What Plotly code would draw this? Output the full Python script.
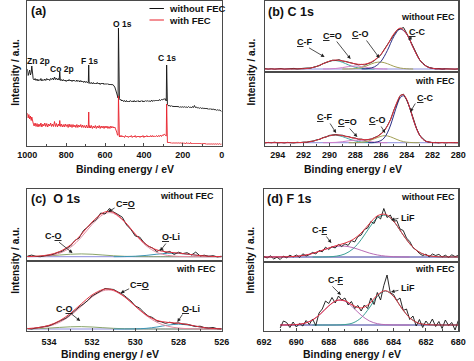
import plotly.graph_objects as go

W, H = 474, 361
FONT = "Liberation Sans, Arial, sans-serif"
FRAME = "#4a4a4a"

# ---------------- (a) survey ----------------
X_SURVEY = [1000, 996, 992, 988, 984, 980, 977, 974, 970, 965, 960, 955, 950, 945, 940, 935, 930, 925, 920, 915,
            910, 905, 900, 895, 890, 885, 880, 875, 870, 865, 860, 855, 850, 845, 840, 836, 833, 830, 825, 820,
            815, 810, 805, 800, 795, 790, 785, 780, 775, 770, 765, 760, 755, 750, 745, 740, 735, 730, 725, 720,
            715, 710, 705, 700, 695, 690, 686, 684, 682, 678, 674, 670, 665, 660, 655, 650, 645, 640, 635, 630,
            625, 620, 615, 610, 605, 600, 595, 590, 585, 580, 575, 570, 565, 560, 555, 550, 545, 540, 536, 533,
            531, 529, 526, 522, 518, 514, 510, 505, 500, 495, 490, 485, 480, 475, 470, 465, 460, 455, 450, 445,
            440, 435, 430, 425, 420, 415, 410, 405, 400, 395, 390, 385, 380, 375, 370, 365, 360, 355, 350, 345,
            340, 335, 330, 325, 320, 315, 310, 305, 300, 296, 292, 288, 285, 283, 281, 279, 276, 272, 268, 264,
            260, 255, 250, 245, 240, 235, 230, 225, 220, 215, 210, 205, 200, 195, 190, 185, 180, 175, 170, 165,
            160, 155, 150, 145, 140, 135, 130, 125, 120, 115, 110, 105, 100, 95, 90, 85, 80, 75, 70, 65,
            60, 55, 50, 45, 40, 35, 30, 25, 20, 15, 10, 5, 0]
Y_WITHOUT = [77, 70.5, 73, 76, 71, 73.5, 80, 69, 67.5, 66, 67.5, 65.5, 67, 65, 66.5, 65.5, 67.5, 65, 66.5, 65.5,
             67, 65.5, 67.5, 66, 67, 65.5, 67.5, 66.5, 68, 66, 69, 66.5, 68, 66, 67.5, 66, 74, 65.5, 66.5, 65,
             66.5, 65, 66, 64.5, 66, 65, 66.5, 65, 66, 64.5, 66, 65, 65.5, 64.5, 66, 64.5, 65.5, 64, 65.5, 64,
             65, 63.5, 65, 63.5, 64.5, 63, 64, 81, 62.5, 63.5, 62.5, 63.5, 62, 63.5, 62, 63, 62, 63.5, 62, 63,
             61.5, 63, 62, 63, 61.5, 62.5, 61.5, 62.5, 61.5, 62, 61, 62, 61, 61.5, 60, 59, 56, 52, 49.5, 48,
             118, 49, 47.5, 46, 46.5, 45, 46, 44.5, 45.5, 44, 45.5, 44, 45, 44, 45.5, 44.5, 45, 44, 45.5, 44,
             45, 44.5, 45.5, 44, 45, 44.5, 45.5, 44, 45, 44.5, 45.5, 44.5, 45.5, 44.5, 45, 44.5, 46, 44.5, 45.5, 45,
             46, 45, 46, 45, 46.5, 45.5, 46.5, 46, 47, 46.5, 47.5, 46, 45, 81, 42.5, 41.5, 41, 40, 40.5, 39.5,
             40.5, 39.5, 40, 39, 40, 39, 40, 39, 39.5, 38.5, 39.5, 38.5, 39.5, 38.5, 39.5, 38.5, 39, 38.5, 39.5, 38.5,
             39, 38, 39.5, 38.5, 40.5, 38.5, 39, 38, 38.5, 37.5, 38.5, 37.5, 38, 37.5, 38, 37, 38, 37, 37.5, 36.5,
             37.5, 36.5, 37, 36.5, 37, 36, 36.5, 35.5, 36.5, 35.5, 36, 35, 34.5]
Y_WITH = [33, 28, 31.5, 27, 30, 25.5, 29, 24, 23, 20, 23, 19.5, 22.5, 19, 22, 19.5, 23, 19, 22, 20,
          23, 19.5, 22.5, 19, 22, 20, 23, 19.5, 22, 19.5, 24.5, 19.5, 22.5, 19, 22, 20, 25.5, 19.5, 22, 19,
          21.5, 19, 22, 19.5, 21.5, 18.5, 22, 19, 21.5, 18.5, 21.5, 19, 21, 18.5, 21.5, 18.5, 21, 19, 21.5, 18.5,
          21, 18.5, 20.5, 18, 21, 18, 20, 34, 18, 20.5, 18, 20.5, 17.5, 20, 18, 20.5, 17.5, 20, 18, 20.5,
          17.5, 20, 18, 20, 17.5, 20, 18, 20, 17.5, 19.5, 17.5, 20, 18, 19.5, 18, 19, 17, 14, 11, 10.5,
          50, 10, 9, 10.5, 9, 10.5, 9, 10, 8.5, 10.5, 9, 10, 8.5, 10, 9, 10.5, 8.5, 10, 9, 10.5,
          8.5, 10, 9, 10, 8.5, 10, 9, 10.5, 8.5, 10, 9, 10.5, 9, 10, 9, 10.5, 9, 10.5, 9, 10,
          9.5, 10.5, 9, 10.5, 9.5, 11, 9.5, 11, 10.5, 12, 11.5, 11, 10, 42, 4.5, 3.5, 4, 3, 4, 3,
          3.5, 2.5, 3.5, 2.5, 3.5, 2.5, 3.5, 2.5, 3.5, 2.5, 3.5, 2.5, 3.5, 2.5, 3, 2, 3.5, 2.5, 3, 2,
          3.5, 2, 3, 2, 3, 2, 3, 2, 3, 2, 3, 2, 2.5, 2, 3, 2, 2.5, 1.5, 2.5, 1.5,
          2.5, 1.5, 2.5, 1.5, 2.5, 1.5, 2.5, 1.5, 2.5, 1.5, 2.5, 1.5, 2]

# ---------------- (b) C 1s ----------------
XB_DATA = [295, 294.75, 294.5, 294.25, 294, 293.75, 293.5, 293.25, 293, 292.75, 292.5, 292.25, 292, 291.75, 291.5,
           291.25, 291, 290.75, 290.5, 290.25, 290, 289.75, 289.5, 289.25, 289, 288.75, 288.5, 288.25, 288, 287.75,
           287.5, 287.25, 287, 286.75, 286.5, 286.25, 286, 285.75, 285.5, 285.25, 285, 284.75, 284.5, 284.25, 284,
           283.75, 283.5, 283.25, 283, 282.75, 282.5, 282.25, 282, 281.75, 281.5, 281.25, 281, 280.75, 280.5, 280.25, 280]
YB_DATA_TOP = [3.4, 2.9, 3.3, 2.8, 3.2, 3.5, 2.9, 3.3, 3.0, 3.6, 3.1, 3.5, 3.2, 4.0, 3.8,
               4.9, 5.6, 6.5, 8.4, 9.2, 10.6, 11.8, 11.6, 12.3, 11.0, 10.6, 9.8, 8.6, 8.4, 7.2,
               7.6, 7.0, 8.4, 9.5, 11.5, 14.6, 17.2, 22.5, 27.3, 32.4, 37.6, 42.0, 43.2, 44.5, 38.6,
               32.0, 24.8, 18.0, 12.0, 8.6, 6.0, 4.4, 3.8, 3.2, 3.5, 2.9, 3.3, 3.0, 3.4, 2.8, 3.2]
YB_DATA_BOT = [3.0, 3.6, 3.2, 3.8, 3.1, 3.5, 3.0, 3.6, 3.3, 3.1, 3.7, 3.4, 3.9, 3.7, 4.6,
               4.9, 6.1, 6.6, 8.4, 9.0, 10.6, 10.8, 11.5, 10.9, 10.8, 9.7, 9.4, 8.2, 8.0, 6.8,
               6.9, 6.0, 6.6, 7.0, 8.5, 9.8, 12.3, 15.0, 20.4, 26.5, 35.9, 43.8, 50.6, 51.8, 46.0,
               37.8, 26.5, 17.9, 10.6, 7.1, 4.5, 3.9, 3.3, 3.6, 3.1, 3.5, 3.0, 3.4, 3.1, 3.5, 3.2]
XB_ENV_TOP = [295, 294.5, 294, 293.5, 293, 292.5, 292, 291.5, 291, 290.5, 290, 289.5, 289, 288.5, 288, 287.5,
              287, 286.5, 286, 285.5, 285, 284.5, 284, 283.5, 283, 282.5, 282, 281.5, 281, 280.5, 280]
YB_ENV_TOP = [3.0, 3.0, 3.0, 3.0, 3.0, 3.05, 3.24, 3.92, 5.5, 8.2, 10.83, 11.97, 11.17, 9.55, 8.17, 7.53,
              8.6, 11.92, 17.68, 26.9, 38.1, 43.95, 38.0, 24.4, 12.3, 5.9, 3.6, 3.1, 3.0, 3.0, 3.0]
XB_ENV_BOT = [295, 294.5, 294, 293.5, 293, 292.5, 292, 291.5, 291, 290.5, 290, 289.5, 289, 288.5, 288, 287.5,
              287, 286.5, 286, 285.75, 285.5, 285.25, 285, 284.75, 284.5, 284.25, 284, 283.75, 283.5, 283.25,
              283, 282.75, 282.5, 282, 281.5, 281, 280.5, 280]
YB_ENV_BOT = [3.3, 3.3, 3.3, 3.3, 3.31, 3.37, 3.61, 4.3, 5.8, 8.1, 10.24, 11.1, 10.41, 9.04, 7.64, 6.55,
              6.34, 8.13, 11.95, 15.2, 20.0, 26.85, 35.5, 44.15, 50.25, 51.27, 46.44, 37.43, 26.89, 17.6,
              10.9, 6.8, 4.7, 3.45, 3.3, 3.3, 3.3, 3.3]
XB_CF = [293, 292.5, 292, 291.5, 291, 290.5, 290, 289.5, 289, 288.5, 288, 287.5, 287, 286.5]
YB_CF_TOP = [3.0, 3.05, 3.24, 3.92, 5.5, 8.2, 10.7, 11.45, 9.8, 7.0, 4.75, 3.56, 3.13, 3.0]
YB_CF_BOT = [3.3, 3.37, 3.61, 4.3, 5.8, 8.1, 10.16, 10.76, 9.44, 7.14, 5.1, 3.95, 3.48, 3.37]
XB_CdO = [290.5, 290, 289.5, 289, 288.5, 288, 287.5, 287, 286.5, 286, 285.5]
YB_CdO_TOP = [3.0, 3.13, 3.52, 4.37, 5.47, 6.0, 5.47, 4.37, 3.52, 3.13, 3.0]
YB_CdO_BOT = [3.33, 3.38, 3.64, 4.27, 5.2, 5.78, 5.5, 4.6, 3.84, 3.45, 3.34]
XB_CO_TOP = [289, 288.5, 288, 287.5, 287, 286.5, 286, 285.5, 285, 284.5, 284, 283.5]
YB_CO_TOP = [3.0, 3.08, 3.42, 4.5, 6.7, 9.2, 9.95, 8.3, 5.7, 3.95, 3.22, 3.0]
XB_CO_BOT = [288.5, 288, 287.5, 287, 286.5, 286, 285.75, 285.5, 285.25, 285, 284.75, 284.5, 284.25, 284, 283.5, 283]
YB_CO_BOT = [3.3, 3.36, 3.7, 4.86, 7.27, 9.7, 10.3, 10.07, 9.15, 7.8, 6.45, 5.25, 4.37, 3.84, 3.39, 3.3]
XB_CC_TOP = [287.5, 287, 286.5, 286, 285.5, 285, 284.5, 284, 283.5, 283, 282.5, 282, 281.5, 281]
YB_CC_TOP = [3.1, 3.4, 5.2, 10.6, 21.6, 35.4, 43.0, 37.8, 24.4, 12.3, 5.9, 3.6, 3.1, 3.0]
XB_CC_BOT = [287, 286.5, 286, 285.75, 285.5, 285.25, 285, 284.75, 284.5, 284.25, 284, 283.75, 283.5, 283.25,
             283, 282.75, 282.5, 282, 281.5]
YB_CC_BOT = [3.3, 3.55, 5.4, 8.1, 13.2, 21.0, 31.0, 41.0, 48.3, 50.2, 45.9, 37.2, 26.8, 17.6, 10.9, 6.8, 4.7, 3.45, 3.3]
XB_BG = [295, 280]
YB_BG_TOP = [3.0, 3.0]
YB_BG_BOT = [3.3, 3.3]

# ---------------- (c) O 1s ----------------
XC_DATA = [535.0, 534.8, 534.6, 534.4, 534.2, 534.0, 533.8, 533.6, 533.4, 533.2, 533.0, 532.8, 532.6, 532.4, 532.2,
           532.0, 531.8, 531.6, 531.4, 531.2, 531.0, 530.8, 530.6, 530.4, 530.2, 530.0, 529.8, 529.6, 529.4, 529.2,
           529.0, 528.8, 528.6, 528.4, 528.2, 528.0, 527.8, 527.6, 527.4, 527.2, 527.0, 526.8, 526.6, 526.4, 526.2, 526.0]
YC_DATA_TOP = [4.8, 5.9, 4.6, 4.3, 5.2, 5.8, 6.6, 8.5, 9.6, 12.4, 15.0, 20.5, 23.0, 30.5, 34.0,
               38.5, 41.5, 48.0, 47.0, 52.5, 49.0, 46.5, 43.8, 36.0, 31.5, 25.0, 24.0, 18.5, 14.8, 13.0,
               9.5, 11.8, 8.4, 9.6, 6.5, 8.8, 7.4, 8.3, 6.0, 8.9, 5.1, 5.8, 4.6, 5.3, 4.1, 4.8]
YC_DATA_BOT = [2.6, 2.0, 3.0, 3.6, 4.4, 5.2, 6.9, 9.0, 10.9, 13.0, 16.5, 20.5, 24.0, 27.0, 30.5,
               35.0, 37.5, 40.5, 42.5, 42.0, 41.5, 39.0, 37.0, 33.5, 30.0, 25.0, 23.0, 18.5, 15.0, 13.5,
               10.0, 9.2, 7.6, 8.8, 7.4, 8.2, 7.0, 6.8, 5.6, 4.4, 4.8, 3.4, 3.0, 3.5, 2.3, 2.1]
XC_ENV = [535, 534.5, 534, 533.5, 533, 532.5, 532, 531.5, 531.25, 531, 530.5, 530, 529.5, 529, 528.5, 528,
          527.5, 527, 526.5, 526]
YC_ENV_TOP = [4.46, 4.91, 6.21, 9.5, 16.06, 26.6, 39.06, 48.1, 49.6, 48.41, 39.6, 27.0, 16.62, 11.1, 9.0, 7.92,
              6.61, 5.39, 4.67, 4.39]
YC_ENV_BOT = [2.43, 3.39, 5.7, 10.3, 17.7, 27.1, 36.1, 41.5, 42.0, 40.87, 34.36, 24.92, 16.17, 10.67, 8.64, 7.8,
              6.14, 4.04, 2.65, 2.14]
XC_CdO = [535, 534.5, 534, 533.5, 533, 532.5, 532, 531.5, 531.25, 531, 530.5, 530, 529.5, 529, 528.5, 528, 527.5, 527, 526]
YC_CdO_TOP = [4.34, 4.53, 5.3, 7.8, 13.6, 23.8, 36.6, 46.4, 48.3, 47.5, 39.1, 26.4, 15.3, 8.6, 5.6, 4.62, 4.36, 4.3, 4.3]
YC_CdO_BOT = [2.3, 3.0, 4.8, 8.7, 15.5, 24.7, 34.1, 40.2, 41.0, 40.2, 34.1, 24.7, 15.5, 8.7, 4.8, 3.0, 2.3, 2.07, 2.0]
XC_CO = [535, 534.5, 534, 533.5, 533, 532.5, 532, 531.5, 531, 530.5, 530, 529.5, 529, 526]
YC_CO_TOP = [4.42, 4.68, 5.21, 6.0, 6.76, 7.1, 6.76, 6.0, 5.21, 4.68, 4.42, 4.33, 4.3, 4.3]
YC_CO_BOT = [2.13, 2.39, 2.9, 3.6, 4.2, 4.39, 4.0, 3.31, 2.67, 2.26, 2.08, 2.02, 2.0, 2.0]
XC_OLI = [531, 530.5, 530, 529.5, 529, 528.5, 528, 527.5, 527, 526.5, 526]
YC_OLI_TOP = [4.3, 4.42, 4.77, 5.59, 6.8, 7.7, 7.6, 6.55, 5.39, 4.67, 4.39]
YC_OLI_BOT = [2.0, 2.0, 2.14, 2.65, 3.97, 5.84, 6.8, 5.84, 3.97, 2.65, 2.14]
XC_BG = [535, 526]
YC_BG_TOP = [4.3, 4.3]
YC_BG_BOT = [2.0, 2.0]

# ---------------- (d) F 1s ----------------
XD_DATA_TOP = [692.0, 691.8, 691.6, 691.4, 691.2, 691.0, 690.8, 690.6, 690.4, 690.2, 690.0, 689.8, 689.6, 689.4,
               689.2, 689.0, 688.8, 688.6, 688.4, 688.2, 688.0, 687.8, 687.6, 687.4, 687.2, 687.0, 686.8, 686.6,
               686.4, 686.2, 686.0, 685.8, 685.6, 685.4, 685.2, 685.0, 684.8, 684.6, 684.4, 684.2, 684.0, 683.8,
               683.6, 683.4, 683.2, 683.0, 682.8, 682.6, 682.4, 682.2, 682.0, 681.8, 681.6, 681.4, 681.2, 681.0,
               680.8, 680.6, 680.4, 680.2, 680.0]
YD_DATA_TOP = [5.5, 4.0, 6.2, 3.0, 4.8, 2.5, 5.9, 4.2, 6.8, 5.0, 7.0, 4.6, 8.2, 6.0,
               7.3, 9.6, 8.0, 11.5, 10.2, 14.8, 12.5, 15.4, 14.0, 17.6, 15.5, 18.2, 16.6, 21.5,
               20.0, 25.5, 27.0, 32.5, 34.0, 40.5, 38.5, 46.0, 43.0, 53.5, 44.5, 47.0, 40.5, 41.5,
               33.0, 31.5, 24.0, 20.5, 14.5, 12.0, 8.5, 6.4, 7.8, 5.2, 8.0, 6.5, 7.6, 5.0,
               6.8, 4.6, 7.2, 5.4, 6.6]
XD_DATA_BOT = [691.0, 690.8, 690.6, 690.4, 690.2, 690.0, 689.8, 689.6, 689.4, 689.2, 689.0, 688.8, 688.6, 688.4,
               688.2, 688.0, 687.8, 687.6, 687.4, 687.2, 687.0, 686.8, 686.6, 686.4, 686.2, 686.0, 685.8, 685.6,
               685.4, 685.2, 685.0, 684.8, 684.6, 684.4, 684.2, 684.0, 683.8, 683.6, 683.4, 683.2, 683.0, 682.8,
               682.6, 682.4, 682.2, 682.0, 681.8, 681.6, 681.4, 681.2, 681.0, 680.8, 680.6, 680.4, 680.2, 680.0]
YD_DATA_BOT = [3.0, 10.0, 8.5, 3.5, 9.0, 4.0, 7.5, 5.0, 10.5, 6.5, 12.0, 5.5, 18.0, 22.0,
               30.0, 27.5, 33.5, 28.0, 35.0, 31.0, 33.0, 26.0, 29.5, 22.5, 25.5, 20.0, 26.0, 22.5,
               33.0, 26.5, 38.5, 31.0, 45.5, 56.0, 38.0, 36.5, 30.5, 33.0, 20.5, 22.0, 11.5, 15.0,
               5.0, 11.5, 3.5, 10.0, 6.0, 12.0, 4.5, 9.5, 2.5, 11.0, 5.5, 8.5, 1.0, 10.5]
XD_ENV_TOP = [692, 691.5, 691, 690.5, 690, 689.5, 689, 688.5, 688, 687.5, 687, 686.5, 686, 685.5, 685, 684.5,
              684, 683.5, 683, 682.5, 682, 681.5, 681, 680.5, 680]
YD_ENV_TOP = [5.0, 5.03, 5.07, 5.25, 5.73, 6.75, 8.57, 11.12, 14.02, 16.59, 18.93, 22.5, 29.0, 38.1, 46.15, 47.68,
              41.0, 29.4, 18.2, 10.7, 6.96, 5.54, 5.12, 5.02, 5.0]
XD_ENV_BOT = [691, 690.5, 690, 689.5, 689, 688.5, 688, 687.5, 687, 686.5, 686, 685.5, 685, 684.5, 684, 683.5,
              683, 682.5, 682, 681.5, 681, 680.5, 680]
YD_ENV_BOT = [6.0, 6.09, 6.44, 7.71, 11.0, 17.25, 25.1, 30.57, 30.25, 25.6, 23.0, 27.15, 35.93, 40.33, 34.66, 23.0,
              13.2, 8.1, 6.45, 6.07, 6.0, 6.0, 6.0]
XD_LIF = [689, 688, 687.5, 687, 686.5, 686, 685.5, 685, 684.5, 684, 683.5, 683, 682.5, 682, 681.5, 681, 680]
YD_LIF_TOP = [5.0, 5.22, 5.93, 8.08, 13.2, 22.3, 34.1, 44.1, 46.8, 40.7, 29.3, 18.2, 10.7, 6.96, 5.54, 5.12, 5.0]
YD_LIF_BOT = [6.0, 6.0, 6.07, 6.45, 8.1, 13.2, 23.0, 34.6, 40.0, 34.6, 23.0, 13.2, 8.1, 6.45, 6.07, 6.0, 6.0]
XD_CF_TOP = [692, 691, 690.5, 690, 689.5, 689, 688.5, 688, 687.5, 687, 686.5, 686, 685.5, 685, 684.5, 684, 683.5, 683]
YD_CF_TOP = [5.0, 5.07, 5.25, 5.73, 6.75, 8.57, 11.1, 13.8, 15.66, 15.85, 14.3, 11.7, 9.0, 7.05, 5.88, 5.31, 5.1, 5.0]
XD_CF_BOT = [691, 690.5, 690, 689.5, 689, 688.5, 688, 687.5, 687, 686.5, 686, 685.5, 685, 684.5, 684, 683.5, 683]
YD_CF_BOT = [6.0, 6.09, 6.44, 7.71, 11.0, 17.25, 25.1, 30.5, 29.8, 23.5, 15.8, 10.15, 7.33, 6.33, 6.06, 6.0, 6.0]
XD_BG_TOP = [692, 680]
YD_BG_TOP = [5.0, 5.0]
XD_BG_BOT = [691, 680]
YD_BG_BOT = [6.0, 6.0]

# ---------------- styling ----------------
RED = "#e2313f"
BLACK = "#111111"
NAVY = "#2c2f86"
OLIVE = "#a3a055"
PINK = "#cf7fc9"
TEAL = "#3fa5a0"
LAV = "#8d8ddc"

fig = go.Figure()


def add(x, y, ax, color, width=1.0, shape="linear", name=None):
    xa, ya = ax
    fig.add_trace(go.Scatter(x=x, y=y, mode="lines", xaxis=xa, yaxis=ya,
                             line=dict(color=color, width=width, shape=shape),
                             showlegend=False, name=name or "", hoverinfo="skip"))


A = ("x", "y")
BT, BB = ("x2", "y2"), ("x3", "y3")
CT, CB = ("x4", "y4"), ("x5", "y5")
DT, DB = ("x6", "y6"), ("x7", "y7")

# (a)
add(X_SURVEY, Y_WITHOUT, A, BLACK, 0.9, name="without FEC")
add(X_SURVEY, Y_WITH, A, "#e8202a", 0.9, name="with FEC")

# (b)
for ax, bg, cf, cdo, (xco, yco), (xcc, ycc), (xd, yd), (xe, ye) in [
    (BT, YB_BG_TOP, YB_CF_TOP, YB_CdO_TOP, (XB_CO_TOP, YB_CO_TOP), (XB_CC_TOP, YB_CC_TOP),
     (XB_DATA, YB_DATA_TOP), (XB_ENV_TOP, YB_ENV_TOP)),
    (BB, YB_BG_BOT, YB_CF_BOT, YB_CdO_BOT, (XB_CO_BOT, YB_CO_BOT), (XB_CC_BOT, YB_CC_BOT),
     (XB_DATA, YB_DATA_BOT), (XB_ENV_BOT, YB_ENV_BOT))]:
    add(XB_BG, bg, ax, LAV, 1.0)
    add(XB_CF, cf, ax, TEAL, 1.0, "spline")
    add(XB_CdO, cdo, ax, PINK, 1.0, "spline")
    add(xco, yco, ax, OLIVE, 1.0, "spline")
    add(xcc, ycc, ax, NAVY, 1.0, "spline")
    add(xd, yd, ax, BLACK, 0.9)
    add(xe, ye, ax, RED, 1.0, "spline")

# (c)
for ax, bg, cdo, co, oli, yd, ye in [
    (CT, YC_BG_TOP, YC_CdO_TOP, YC_CO_TOP, YC_OLI_TOP, YC_DATA_TOP, YC_ENV_TOP),
    (CB, YC_BG_BOT, YC_CdO_BOT, YC_CO_BOT, YC_OLI_BOT, YC_DATA_BOT, YC_ENV_BOT)]:
    add(XC_BG, bg, ax, LAV, 1.0)
    add(XC_CO, co, ax, "#8aa46a", 1.0, "spline")
    add(XC_OLI, oli, ax, "#3d95b5", 1.0, "spline")
    add(XC_CdO, cdo, ax, "#e68aa0", 1.0, "spline")
    add(XC_DATA, yd, ax, BLACK, 0.9)
    add(XC_ENV, ye, ax, RED, 1.0, "spline")

# (d)
for ax, (xbg, ybg), lif, (xcf, ycf), (xd, yd), (xe, ye) in [
    (DT, (XD_BG_TOP, YD_BG_TOP), YD_LIF_TOP, (XD_CF_TOP, YD_CF_TOP), (XD_DATA_TOP, YD_DATA_TOP), (XD_ENV_TOP, YD_ENV_TOP)),
    (DB, (XD_BG_BOT, YD_BG_BOT), YD_LIF_BOT, (XD_CF_BOT, YD_CF_BOT), (XD_DATA_BOT, YD_DATA_BOT), (XD_ENV_BOT, YD_ENV_BOT))]:
    add(xbg, ybg, ax, "#34379a", 1.0)
    add(XD_LIF, lif, ax, "#3a9f94", 1.0, "spline")
    add(xcf, ycf, ax, "#b86bb5", 1.0, "spline")
    add(xd, yd, ax, BLACK, 0.9)
    add(xe, ye, ax, RED, 1.0, "spline")

# ---------------- axes ----------------
TICKFONT = dict(family=FONT, size=9, color="#111", weight="bold")


def xaxis(px0, px1, rng, anchor, labels, dtick=None, mdtick=None, standoff=0):
    d = dict(domain=[px0 / W, px1 / W], range=rng, anchor=anchor, showline=True, mirror=True,
             linecolor=FRAME, linewidth=1.2, showgrid=False, zeroline=False, fixedrange=True)
    if labels:
        d.update(ticks="inside", ticklen=3, tickwidth=1, tickcolor=FRAME, dtick=dtick,
                 tickfont=TICKFONT, showticklabels=True, ticklabelstandoff=standoff,
                 minor=dict(ticks="inside", ticklen=2, dtick=mdtick, tickcolor=FRAME, tickwidth=1))
    else:
        d.update(ticks="", showticklabels=False)
    return d


def yaxis(pt, pb, anchor):
    return dict(domain=[1 - pb / H, 1 - pt / H], range=[0, pb - pt], anchor=anchor, showline=True,
                mirror=True, linecolor=FRAME, linewidth=1.2, showgrid=False, zeroline=False,
                ticks="", showticklabels=False, fixedrange=True)


layout = dict(
    width=W, height=H, margin=dict(l=0, r=0, t=0, b=0),
    paper_bgcolor="white", plot_bgcolor="white", showlegend=False,
    xaxis=xaxis(18, 220, [1000, 0], "y", True, 200, 100, 0), yaxis=yaxis(1, 146, "x"),
    xaxis2=xaxis(265, 466, [295, 280], "y2", False), yaxis2=yaxis(1, 72, "x2"),
    xaxis3=xaxis(265, 466, [295, 280], "y3", True, 2, 1, 0), yaxis3=yaxis(72, 146, "x3"),
    xaxis4=xaxis(18, 220, [535, 526], "y4", False), yaxis4=yaxis(189, 261, "x4"),
    xaxis5=xaxis(18, 220, [535, 526], "y5", True, 2, 1, 2), yaxis5=yaxis(261, 331, "x5"),
    xaxis6=xaxis(264, 466, [692, 680], "y6", False), yaxis6=yaxis(189, 262, "x6"),
    xaxis7=xaxis(264, 466, [692, 680], "y7", True, 2, 1, 2), yaxis7=yaxis(262, 331, "x7"),
)
fig.update_layout(**layout)

# ---------------- texts ----------------
ann = []
shapes = []


def txt(s, x, y, size=9, xanchor="center", angle=0):
    ann.append(dict(text=s, x=x / W, y=1 - y / H, xref="paper", yref="paper", showarrow=False,
                    xanchor=xanchor, yanchor="middle", textangle=angle,
                    font=dict(family=FONT, size=size, color="#111", weight="bold")))


def arrow(x0, y0, x1, y1):
    ann.append(dict(text="", x=x1 / W, y=1 - y1 / H, xref="paper", yref="paper", showarrow=True,
                    ax=x0 - x1, ay=y0 - y1, arrowhead=2, arrowsize=0.9, arrowwidth=0.8,
                    arrowcolor="#222"))


# panel titles
txt("(a)", 20, 11, 12.5, "left")
txt("(b) C 1s", 266, 12, 12.5, "left")
txt("(c)  O 1s", 20, 199, 12.5, "left")
txt("(d) F 1s", 265, 199, 12.5, "left")

# axis titles
for x, y in [(120, 169), (357, 169), (104, 354), (355, 354)]:
    txt("Binding energy / eV", x, y, 10.5)
for x, y in [(5, 72), (250, 72), (5, 260), (249, 260)]:
    txt("Intensity / a.u.", x, y, 10, angle=-90)

# (a) labels and legend
txt("Zn 2p", 29.5, 61, 8.5)
txt("Co 2p", 54, 69, 8.5)
txt("F 1s", 83, 61, 8.5)
txt("O 1s", 117, 24, 8.5)
txt("C 1s", 163, 58, 8.5)
txt("without FEC", 163, 8.5, 9.5, "left")
txt("with FEC", 163, 20, 9.5, "left")
shapes.append(dict(type="line", xref="paper", yref="paper", x0=145 / W, x1=160 / W, y0=1 - 8.5 / H,
                   y1=1 - 8.5 / H, line=dict(color=BLACK, width=1)))
shapes.append(dict(type="line", xref="paper", yref="paper", x0=145 / W, x1=160 / W, y0=1 - 20 / H,
                   y1=1 - 20 / H, line=dict(color="#e8202a", width=1)))

# (b) labels
txt("without FEC", 465, 17.5, 9, "right")
txt("with FEC", 465, 81, 9, "right")
txt("<u>C</u>-C", 423, 32, 9)
arrow(419, 36, 414, 40)
txt("<u>C</u>-O", 364.5, 34.5, 9)
arrow(370, 39, 384, 58)
txt("<u>C</u>=O", 335.5, 36, 9)
arrow(339, 40, 354, 59)
txt("<u>C</u>-F", 306, 42.5, 9)
arrow(310, 47, 327, 57)
txt("<u>C</u>-C", 431, 98, 9)
arrow(422, 102, 416, 112)
txt("<u>C</u>-O", 381.5, 120, 9)
arrow(385, 125, 390, 133)
txt("<u>C</u>=O", 350.5, 122, 9)
arrow(352, 127, 361, 137)
txt("<u>C</u>-F", 327, 117, 9)
arrow(332, 122, 339, 133)

# (c) labels
txt("without FEC", 214, 196, 9, "right")
txt("with FEC", 216, 269, 9, "right")
txt("C=<u>O</u>", 120, 204, 9)
arrow(110, 207, 102, 212)
txt("C-<u>O</u>", 45, 236, 9)
arrow(50, 241, 65, 253)
txt("<u>O</u>-Li", 167, 237, 9)
arrow(163, 242, 156, 251)
txt("C=<u>O</u>", 135, 285, 9)
arrow(125, 288, 115, 293)
txt("C-<u>O</u>", 57, 309, 9)
arrow(63, 313, 73, 321)
txt("<u>O</u>-Li", 188, 309, 9)
arrow(180, 313, 174, 322)

# (d) labels
txt("without FEC", 465, 197, 9, "right")
txt("with FEC", 465, 269, 9, "right")
txt("LiF", 413.5, 217.5, 9)
arrow(405, 218, 396, 220)
txt("C-<u>F</u>", 322.5, 230, 9)
arrow(328, 235, 334, 243)
txt("C-<u>F</u>", 339, 280, 9)
arrow(334, 285, 344, 295)
txt("LiF", 413.5, 288, 9)
arrow(405, 290, 396, 292)

fig.update_layout(annotations=ann, shapes=shapes)
fig.write_html(
    "out.html",
    config={"displayModeBar": False, "staticPlot": True},
    post_script="document.documentElement.style.overflow='hidden';"
                "document.body.style.margin='0';document.body.style.overflow='hidden';",
)
